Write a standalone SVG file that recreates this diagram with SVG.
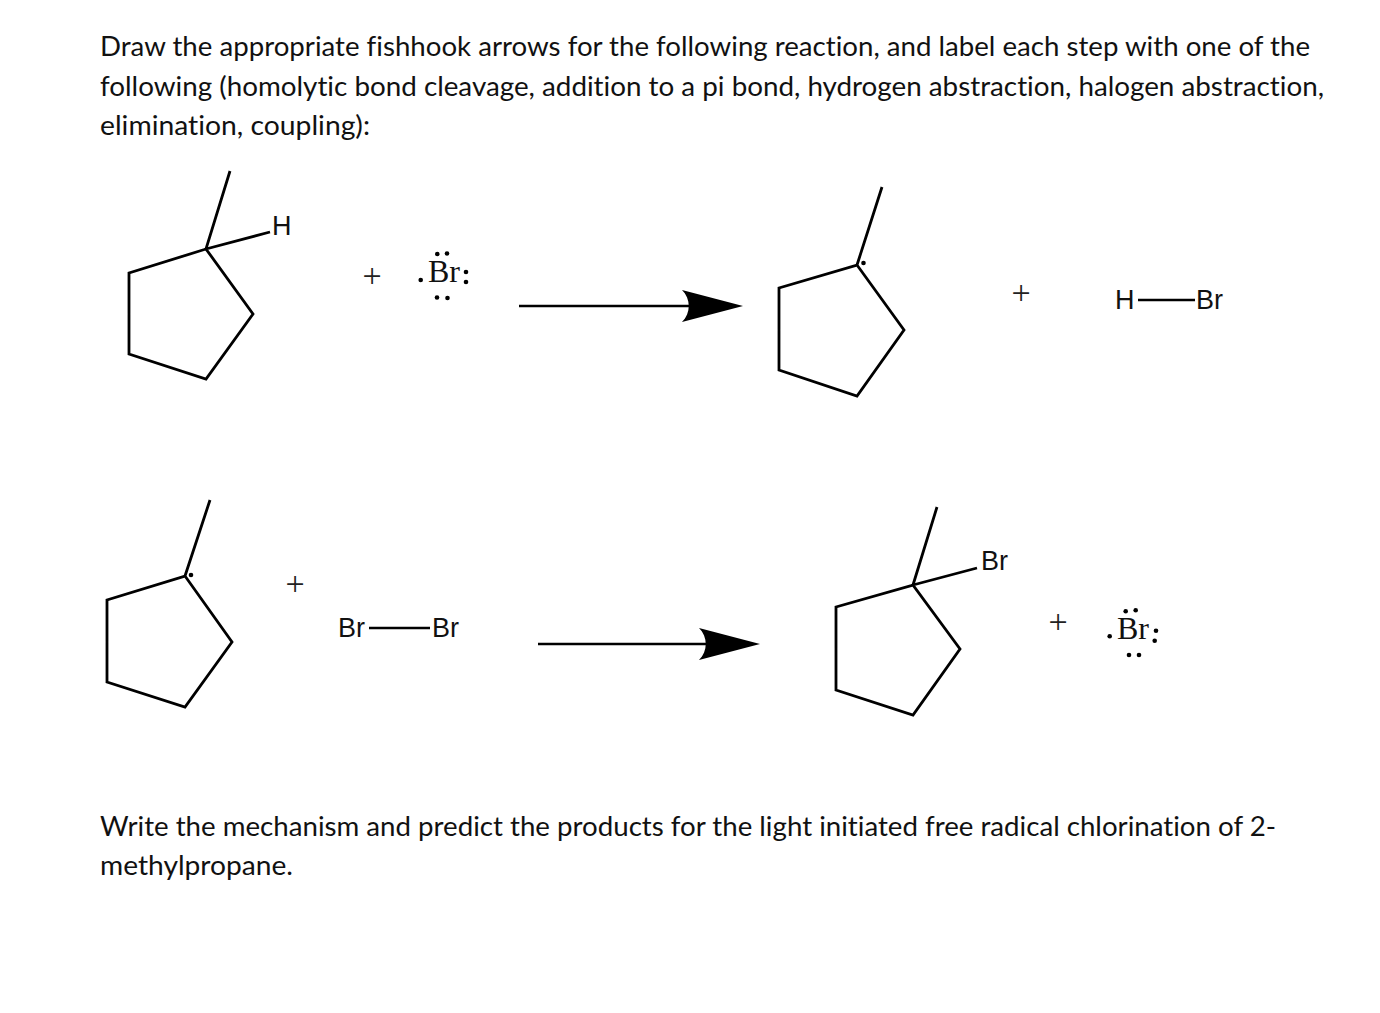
<svg xmlns="http://www.w3.org/2000/svg" width="1380" height="1013" viewBox="0 0 1380 1013">
<style>
.t{font-family:"Lato","Open Sans","Liberation Sans",sans-serif;font-size:27px;fill:#111;font-variant-ligatures:none}
.a{font-family:"Liberation Sans",Arial,sans-serif;font-size:27px;fill:#111}
.s{font-family:"Liberation Serif","Times New Roman",serif;font-size:32px;fill:#111}
.p{font-family:"Liberation Serif","Times New Roman",serif;font-size:34px;fill:#222}
.b{fill:none;stroke:#000;stroke-width:2.8;stroke-linejoin:miter}
.l{fill:none;stroke:#000;stroke-width:2.4}
</style>
<defs>
<path id="head" d="M0 0 C9 9 9 23 0 32 L61 16 Z" fill="#000"/>
</defs>
<rect width="1380" height="1013" fill="#fff"/>
<g id="instructions">
<text class="t" x="100" y="56" textLength="1210" lengthAdjust="spacingAndGlyphs">Draw the appropriate fishhook arrows for the following reaction, and label each step with one of the</text>
<text class="t" x="100" y="96" textLength="1224" lengthAdjust="spacingAndGlyphs">following (homolytic bond cleavage, addition to a pi bond, hydrogen abstraction, halogen abstraction,</text>
<text class="t" x="100" y="135" textLength="270" lengthAdjust="spacingAndGlyphs">elimination, coupling):</text>
</g>
<g id="mol-1">
<path class="b" d="M230 171 L206 249 L129 273 L129 354 L206 379 L253 314 L206 249 L270 232"/>
<text class="a" x="272" y="235">H</text>
</g>
<g id="plus-1"><text class="p" x="372" y="287" text-anchor="middle">+</text></g>
<g id="br-radical-1">
<text class="s" x="428" y="282">Br</text>
<circle cx="437.3" cy="254" r="2.3"/><circle cx="447" cy="253.5" r="2.3"/><circle cx="420.7" cy="280" r="2.3"/><circle cx="466" cy="272" r="2.3"/><circle cx="466" cy="282" r="2.3"/><circle cx="437" cy="297.5" r="2.3"/><circle cx="447.5" cy="298" r="2.3"/>
</g>
<g id="mol-2">
<path class="b" d="M882 187 L857 265 L779 288 L779 370 L857 396 L904 330 L857 265"/>
<circle cx="863.500" cy="263" r="2.3"/>
</g>
<g id="plus-2"><text class="p" x="1021" y="304" text-anchor="middle">+</text></g>
<g id="hbr">
<text class="a" x="1115" y="309">H</text>
<text class="a" x="1196" y="309">Br</text>
</g>
<g id="mol-3">
<path class="b" d="M210 500 L185 576 L107 600 L107 682 L185 707 L232 642 L185 576"/>
<circle cx="191" cy="575" r="2.3"/>
</g>
<g id="plus-3"><text class="p" x="295" y="595" text-anchor="middle">+</text></g>
<g id="br2">
<text class="a" x="338" y="637">Br</text>
<text class="a" x="432" y="637">Br</text>
</g>
<g id="mol-4">
<path class="b" d="M937 507 L913 585 L836 607 L836 690 L913 715 L960 649 L913 585 L977 568"/>
<text class="a" x="981" y="570">Br</text>
</g>
<g id="plus-4"><text class="p" x="1058" y="633" text-anchor="middle">+</text></g>
<g id="br-radical-2">
<text class="s" x="1117" y="639">Br</text>
<circle cx="1125.700" cy="611.300" r="2.300"/><circle cx="1135.700" cy="610.300" r="2.300"/><circle cx="1109.700" cy="636.300" r="2.300"/><circle cx="1156" cy="630.700" r="2.300"/><circle cx="1154.700" cy="640.700" r="2.300"/><circle cx="1129" cy="655" r="2.300"/><circle cx="1139" cy="655" r="2.300"/>
</g>
<g id="connectors">
<path class="l" d="M519 306 H690"/>
<use href="#head" x="682" y="290"/>
<path class="l" d="M538 644 H708"/>
<use href="#head" x="699" y="628"/>
<path class="l" d="M1138 300 H1195"/>
<path class="l" d="M369 628 H430"/>
</g>
<g id="question">
<text class="t" x="100" y="836" textLength="1176" lengthAdjust="spacingAndGlyphs">Write the mechanism and predict the products for the light initiated free radical chlorination of 2-</text>
<text class="t" x="100" y="875" textLength="193" lengthAdjust="spacingAndGlyphs">methylpropane.</text>
</g>
</svg>
